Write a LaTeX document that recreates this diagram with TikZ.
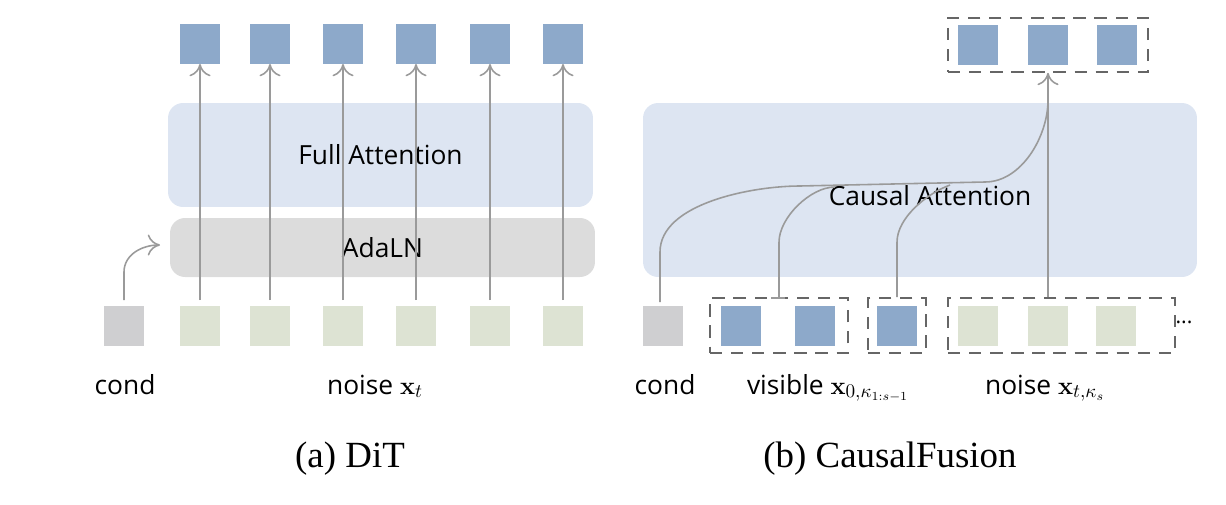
\documentclass[tikz,border=0pt]{standalone}
\usepackage[no-math]{fontspec}
\setmainfont{Open Sans}
\newfontfamily\capfont{Liberation Serif}
\usetikzlibrary{calc,arrows.meta}
\definecolor{tokblue}{HTML}{8DA9CA}
\definecolor{tokgreen}{HTML}{DDE3D3}
\definecolor{tokgray}{HTML}{CFCFD1}
\definecolor{attn}{HTML}{DDE5F2}
\definecolor{adaln}{HTML}{DCDCDC}
\definecolor{line}{HTML}{9A9A9A}
\begin{document}
\begin{tikzpicture}[x=0.02cm,y=-0.02cm,
  tok/.style={minimum size=0.8cm,inner sep=0,outer sep=0},
  blk/.style={rounded corners=0.3cm,inner sep=0,font=\fontsize{15}{18}\selectfont},
  conn/.style={draw=line,line width=0.9pt},
  arr/.style={conn,-{To[length=7pt,width=12pt]}},
  grp/.style={draw=black!60,dash pattern=on 7pt off 5pt,line width=1pt,inner sep=0},
  lab/.style={font=\fontsize{15}{18}\selectfont,anchor=base},
  captxt/.style={font=\capfont\fontsize{21}{24}\selectfont,anchor=base}]
\useasboundingbox (0,0) rectangle (1226,504);

% (a) DiT
\node[blk,fill=attn,minimum width=8.5cm,minimum height=2.08cm] (fa) at (380.5,155) {Full Attention};
\node[blk,fill=adaln,minimum width=8.5cm,minimum height=1.18cm] (ada) at (382.5,247.5) {AdaLN};
\node[tok,fill=tokgray] (c0) at (124,326) {};
\foreach \x [count=\i] in {200,270,343,416,490,563}{
  \node[tok,fill=tokblue] (o\i) at (\x,44) {};
  \node[tok,fill=tokgreen] (n\i) at (\x,326) {};
  \draw[arr] ($(n\i.north)+(0,-6)$) -- (o\i.south);
}
\coordinate (ct) at (160,245);
\draw[arr] ($(c0.north)+(0,-6)$) -- ++(0,-28) to[out=90,in=180] (ct);
\node[lab] (l1) at (125,394) {cond};
\node[lab] (l2) at (375,394) {noise $\mathbf{x}_t$};
\node[captxt] (capa) at (350,467) {(a) DiT};

% (b) CausalFusion
\node[blk,fill=attn,minimum width=11.08cm,minimum height=3.48cm] (ca) at (920,190) {};
\node[blk] (cat) at (930,196) {Causal Attention};
\foreach \x [count=\i] in {978,1048,1117}
  \node[tok,fill=tokblue] (p\i) at (\x,45) {};
\node[grp,minimum width=4cm,minimum height=1.08cm] (gtop) at (1048,45) {};

\node[tok,fill=tokgray] (d0) at (663,326) {};
\node[tok,fill=tokblue] (v1) at (741,326) {};
\node[tok,fill=tokblue] (v2) at (815,326) {};
\node[tok,fill=tokblue] (v3) at (897,326) {};
\node[tok,fill=tokgreen] (m1) at (978,326) {};
\node[tok,fill=tokgreen] (m2) at (1048,326) {};
\node[tok,fill=tokgreen] (m3) at (1116,326) {};
\node[grp,minimum width=2.76cm,minimum height=1.1cm] (g1) at (779,325.5) {};
\node[grp,minimum width=1.16cm,minimum height=1.1cm] (g2) at (897,325.5) {};
\node[grp,minimum width=4.54cm,minimum height=1.1cm] (g3) at (1061.5,325.5) {};
\node[font=\large] (dots) at (1184,322) {...};

\coordinate (j) at (1048,100);
\draw[conn] ($(d0.north)+(-3,-4)$) -- ++(0,-50) to[out=90,in=180,looseness=0.8] (800,186)
  -- (985,182) to[out=0,in=-90,looseness=0.9] (j);
\draw[conn] (g1.north) -- ++(0,-55) to[out=90,in=180,looseness=0.8] (835,187);
\draw[conn] (771,298) -- (785,298);
\draw[conn] (g2.north) -- ++(0,-55) to[out=90,in=200,looseness=0.8] (950,185);
\draw[arr] (g3.north -| j) -- (gtop.south -| j);
\draw[conn] (j) -- ++(0,-2);

\node[lab] (r1) at (665,394) {cond};
\node[lab] (r2) at (828,394) {visible $\mathbf{x}_{0,\kappa_{1:s-1}}$};
\node[lab] (r3) at (1045,394) {noise $\mathbf{x}_{t,\kappa_s}$};
\node[captxt] (capb) at (890,467) {(b) CausalFusion};
\end{tikzpicture}
\end{document}
